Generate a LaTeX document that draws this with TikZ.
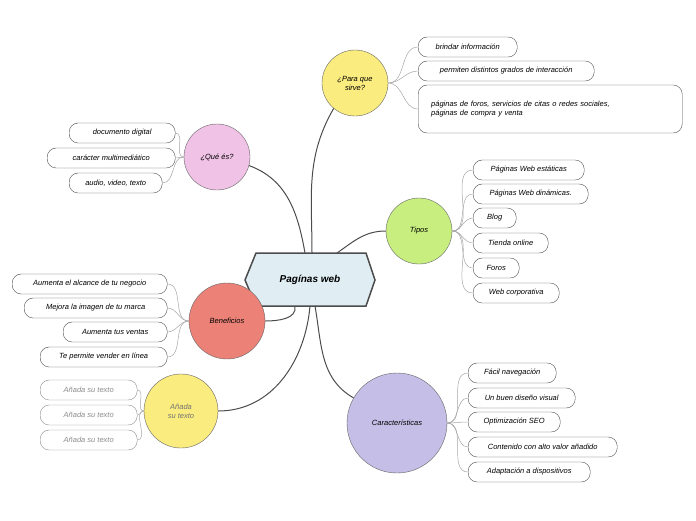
\documentclass[tikz,border=0pt]{standalone}
\usepackage{fontspec}
\setmainfont{Liberation Sans}
\begin{document}
\begin{tikzpicture}[x=1pt,y=-1pt,
 pill/.style={draw=black!70,rounded corners=9pt,fill=white,minimum height=20pt,inner sep=2pt,font=\fontsize{7.5}{9}\selectfont\itshape,anchor=west},
 gpill/.style={pill,draw=black!45,text=black!45},
 circ/.style={circle,draw=black!60,font=\fontsize{7.5}{9}\selectfont\itshape,align=center,inner sep=0pt},
 main/.style={draw=black!70,line width=1pt},
 br/.style={draw=black!35,line width=0.5pt}]
\useasboundingbox (0,0) rectangle (696,520);
\definecolor{salmon}{HTML}{EC8277}
\definecolor{lgreen}{HTML}{C8EE80}
\definecolor{lyel}{HTML}{FBEC7F}
\definecolor{lpink}{HTML}{F0C2E6}
\definecolor{lav}{HTML}{C5BEE6}
\definecolor{hexf}{HTML}{E0EEF4}
% center
\draw[line width=1.5pt,draw=black!70,fill=hexf] (245,280)--(256,253)--(366,253)--(375,280)--(366,306)--(256,306)--cycle;
\node[font=\bfseries\fontsize{10}{12}\selectfont\itshape] (c) at (310,280) {Pagínas web};
% circles
\node[circ,fill=lyel,minimum size=66pt] (ps) at (355,83) {¿Para que\\sirve?};
\node[circ,fill=lpink,minimum size=66pt] (qe) at (217,157) {¿Qué és?};
\node[circ,fill=lgreen,minimum size=66pt] (ti) at (419,231) {Tipos};
\node[circ,fill=salmon,minimum size=76pt] (be) at (227,321) {Beneficios};
\node[circ,fill=lyel,minimum size=74pt,text=black!55] (an) at (181,411) {Añada\\su texto};
\node[circ,fill=lav,minimum size=100pt] (ca) at (397,423) {Características};
% main connectors
\draw[main] (312,253) to[out=-90+180,in=-120] (ps.-130);
\draw[main] (305,253) to[out=100,in=-20] (qe.-15);
\draw[main] (337,253) to[out=35,in=180] (ti.west);
\draw[main] (295,306) to[out=-80,in=0] (be.east);
\draw[main] (310,306) to[out=-95,in=0] (an.east);
\draw[main] (315,306) to[out=-80,in=150] (ca.150);
% para que sirve
\node[pill,minimum width=99pt] (p1) at (418,47) {brindar información};
\node[pill,minimum width=176pt] (p2) at (418,71) {permiten distintos grados de interacción};
\node[pill,minimum width=264pt,minimum height=48pt,align=left,text width=250pt] (p3) at (418,109) {\hspace*{6pt}páginas de foros, servicios de citas o redes sociales,\\ \hspace*{6pt}páginas de compra y venta};
\foreach \n in {p1,p2,p3} \draw[br] (ps.east) to[out=0,in=180] (\n.west);
% que es
\node[pill,minimum width=106pt] (q1) at (69,133) {documento digital};
\node[pill,minimum width=128pt] (q2) at (47,158) {carácter multimediático};
\node[pill,minimum width=93pt] (q3) at (69,183) {audio, video, texto};
\foreach \n in {q1,q2,q3} \draw[br] (qe.west) to[out=180,in=0] (\n.east);
% tipos
\node[pill,minimum width=111pt] (t1) at (473,170) {Páginas Web estáticas};
\node[pill,minimum width=115pt] (t2) at (473,194) {Páginas Web dinámicas.};
\node[pill,minimum width=43pt] (t3) at (473,218) {Blog};
\node[pill,minimum width=75pt] (t4) at (473,243) {Tienda online};
\node[pill,minimum width=46pt] (t5) at (473,268) {Foros};
\node[pill,minimum width=86pt] (t6) at (473,293) {Web corporativa};
\foreach \n in {t1,t2,t3,t4,t5,t6} \draw[br] (ti.east) to[out=0,in=180] (\n.west);
% beneficios
\node[pill,minimum width=155pt] (b1) at (12,284) {Aumenta el alcance de tu negocio};
\node[pill,minimum width=143pt] (b2) at (24,308) {Mejora la imagen de tu marca};
\node[pill,minimum width=104pt] (b3) at (63,332) {Aumenta tus ventas};
\node[pill,minimum width=127pt] (b4) at (40,357) {Te permite vender en línea};
\foreach \n in {b1,b2,b3,b4} \draw[br] (be.west) to[out=180,in=0] (\n.east);
% añada
\node[gpill,minimum width=97pt] (a1) at (40,390) {Añada su texto};
\node[gpill,minimum width=97pt] (a2) at (40,415) {Añada su texto};
\node[gpill,minimum width=97pt] (a3) at (40,440) {Añada su texto};
\foreach \n in {a1,a2,a3} \draw[br] (an.west) to[out=180,in=0] (\n.east);
% caracteristicas
\node[pill,minimum width=88pt] (k1) at (468,373) {Fácil navegación};
\node[pill,minimum width=107pt] (k2) at (468,398) {Un buen diseño visual};
\node[pill,minimum width=92pt] (k3) at (468,422) {Optimización SEO};
\node[pill,minimum width=149pt] (k4) at (468,447) {Contenido con alto valor añadido};
\node[pill,minimum width=122pt] (k5) at (468,472) {Adaptación a dispositivos};
\foreach \n in {k1,k2,k3,k4,k5} \draw[br] (ca.east) to[out=0,in=180] (\n.west);
\end{tikzpicture}
\end{document}
